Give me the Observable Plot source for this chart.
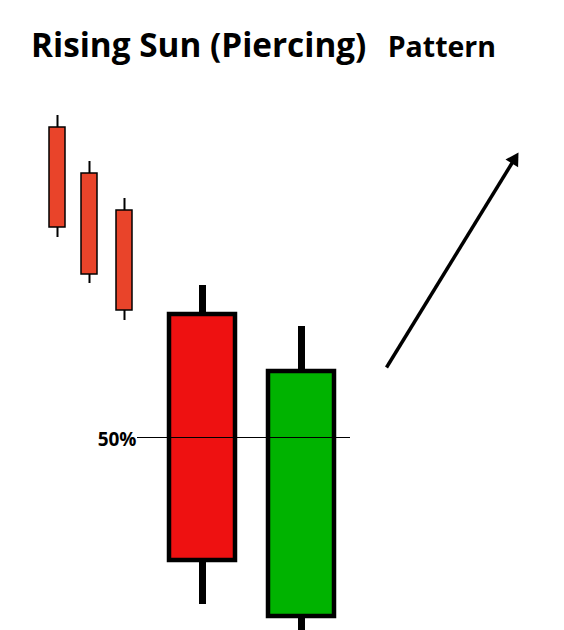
<!DOCTYPE html>
<html><head><meta charset="utf-8">
<script src="https://cdn.jsdelivr.net/npm/d3@7"></script>
<script src="https://cdn.jsdelivr.net/npm/@observablehq/plot@0.6"></script>
<style>
body{margin:0;background:#fff;width:564px;height:630px;overflow:hidden;position:relative;font-family:"Open Sans",sans-serif}
#title{position:absolute;left:31px;top:28px;font-weight:700;font-size:33.3px;line-height:1;color:#000;white-space:pre}
#title .sub{font-size:28.5px;margin-left:4px}
#chart{position:absolute;left:0;top:80px}
</style></head><body>
<div id="title">Rising Sun (Piercing)  <span class="sub">Pattern</span></div>
<div id="chart"></div>
<script>
// candle data (schematic positions / price units)
const day   = [57, 89, 124, 202, 301];
const open  = [503, 457, 420, 316, 14];
const close = [403, 356, 320, 70, 259];
const high  = [515, 469, 432, 345, 304];
const low   = [393, 347, 310, 26, 0];
const kind  = ["small", "small", "small", "large", "large"];
const midLabel = "50%";
const trendX = [386, 518];
const trendY = [263, 478];

const candles = day.map((d, i) => ({day: d, open: open[i], close: close[i], high: high[i], low: low[i], kind: kind[i]}));
const small = candles.filter(d => d.kind === "small");
const large = candles.filter(d => d.kind === "large");
const colorOf = d => d.kind === "small" ? "#e9442a" : (d.close > d.open ? "#00b300" : "#ee1111");

const ref = large[0];
const mid = (ref.open + ref.close) / 2;
const midRule = [{y: mid, x1: ref.day - 65, x2: large[1].day + 49, label: midLabel}];

// arrow: shaft + filled triangle head
const dx = trendX[1] - trendX[0], dy = trendY[1] - trendY[0];
const len = Math.hypot(dx, dy);
const headR = 5.5;
const back = 2 * Math.sqrt(Math.PI * headR * headR / (3 * Math.sqrt(3)));
const hx = trendX[1] - dx / len * back, hy = trendY[1] - dy / len * back;
const angle = Math.atan2(dx, dy) * 180 / Math.PI;
const shaft = [{x1: trendX[0], y1: trendY[0], x2: hx, y2: hy}];
const head = [{x: hx, y: hy}];

const chart = Plot.plot({
  width: 564, height: 550,
  margin: 0,
  x: {domain: [0, 564], axis: null},
  y: {domain: [0, 550], axis: null},
  marks: [
    Plot.ruleX(small, {x: "day", y1: "low", y2: "high", stroke: "#000", strokeWidth: 2}),
    Plot.ruleX(large, {x: "day", y1: "low", y2: "high", stroke: "#000", strokeWidth: 7}),
    Plot.rect(small, {x1: d => d.day - 8, x2: d => d.day + 8, y1: "open", y2: "close", fill: colorOf, stroke: "#000", strokeWidth: 1.5}),
    Plot.rect(large, {x1: d => d.day - 33, x2: d => d.day + 33, y1: "open", y2: "close", fill: colorOf, stroke: "#000", strokeWidth: 4.5}),
    Plot.ruleY(midRule, {y: "y", x1: "x1", x2: "x2", stroke: "#000", strokeWidth: 1}),
    Plot.text(midRule, {x: "x1", y: "y", text: "label", textAnchor: "end", dx: -1, dy: 2, fontSize: 19, fontWeight: "bold", fill: "#000", fontFamily: "Open Sans"}),
    Plot.link(shaft, {x1: "x1", y1: "y1", x2: "x2", y2: "y2", stroke: "#000", strokeWidth: 3.5}),
    Plot.dot(head, {x: "x", y: "y", symbol: "triangle", r: headR, fill: "#000", stroke: "none", rotate: angle})
  ]
});
document.getElementById("chart").appendChild(chart);
</script>
</body></html>
